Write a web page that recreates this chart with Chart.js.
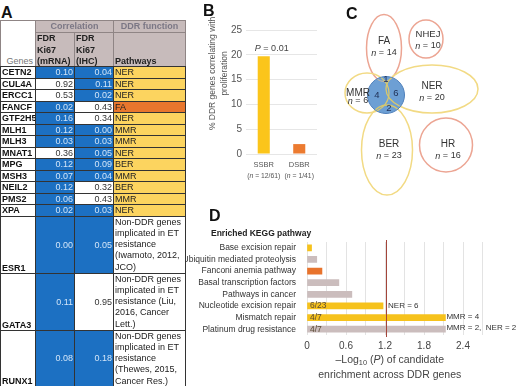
<!DOCTYPE html>
<html><head><meta charset="utf-8">
<script src="https://cdn.jsdelivr.net/npm/chart.js@4/dist/chart.umd.min.js"></script>
<style>
body{margin:0;width:520px;height:386px;position:relative;overflow:hidden;background:#fff;font-family:"Liberation Sans",Arial,sans-serif;}
canvas{position:absolute;}
.letter{position:absolute;font-weight:bold;font-size:16px;line-height:16px;color:#111;}
#tbl{position:absolute;left:0;top:0;width:186px;height:386px;z-index:5;}
.cell{position:absolute;box-sizing:border-box;border:1px solid #333;font-size:9px;overflow:hidden;}
#kegg{position:absolute;left:211px;top:228px;font-size:8.5px;font-weight:bold;color:#222;line-height:11px;}
</style></head><body>
<div id="tbl"></div>
<canvas id="cB" width="140" height="200" style="left:200px;top:0"></canvas>
<canvas id="cC" width="180" height="200" style="left:340px;top:0"></canvas>
<canvas id="cD" width="370" height="186" style="left:150px;top:200px"></canvas>
<div class="letter" style="left:1px;top:5px">A</div>
<div class="letter" style="left:203px;top:3px">B</div>
<div class="letter" style="left:346px;top:6px">C</div>
<div class="letter" style="left:209px;top:208px">D</div>
<div id="kegg">Enriched KEGG pathway</div>
<script>
// ---------- DATA ----------
// Panel A
const genes = ['CETN2','CUL4A','ERCC1','FANCF','GTF2H5','MLH1','MLH3','MNAT1','MPG','MSH3','NEIL2','PMS2','XPA','ESR1','GATA3','RUNX1'];
const fdrMrna = [0.10,0.92,0.53,0.02,0.16,0.12,0.03,0.36,0.12,0.07,0.12,0.06,0.02,0.00,0.11,0.08];
const fdrIhc  = [0.04,0.11,0.02,0.43,0.34,0.00,0.03,0.05,0.09,0.04,0.32,0.43,0.03,0.05,0.95,0.18];
const genePathways = ['NER','NER','NER','FA','NER','MMR','MMR','NER','BER','MMR','BER','MMR','NER',
  'Non-DDR genes\nimplicated in ET\nresistance\n(Iwamoto, 2012,\nJCO)',
  'Non-DDR genes\nimplicated in ET\nresistance (Liu,\n2016, Cancer\nLett.)',
  'Non-DDR genes\nimplicated in ET\nresistance\n(Thewes, 2015,\nCancer Res.)'];
const tableHeaders = ['Genes','Correlation','DDR function','FDR\nKi67\n(mRNA)','FDR\nKi67\n(IHC)','Pathways'];
const fdrCutoff = 0.2;

// Panel B
const bCategories = ['SSBR','DSBR'];
const bCounts = ['12/61','1/41'];
const bPercent = [19.7, 2.0];
const bPValue = '0.01';
const bYTicks = [0,5,10,15,20,25];

// Panel C
const vennSets = ['FA','NHEJ','NER','MMR','BER','HR'];
const vennSizes = [14,10,20,6,23,16];
const vennCoreSets = ['FA','MMR','NER','BER'];
const vennCoreCounts = [1,4,6,2];

// Panel D
const keggPathways = ['Base excision repair','Ubiquitin mediated proteolysis','Fanconi anemia pathway','Basal transcription factors','Pathways in cancer','Nucleotide excision repair','Mismatch repair','Platinum drug resistance'];
const keggLogP = [0.07,0.15,0.23,0.49,0.69,1.17,2.13,2.13];
const keggType = ['SSBR','other','FA','other','other','SSBR','SSBR','other'];
const keggRatio = ['','','','','','6/23','4/7','4/7'];
const keggNote = ['','','','','','NER = 6','MMR = 4','MMR = 2,  NER = 2'];
const keggThreshold = 1.22;
const keggXTicks = [0,0.6,1.2,1.8,2.4];

// ---------- STYLE / LAYOUT ----------
const FONT = '"Liberation Sans", Arial, sans-serif';
const C_BLUE = '#1c70c2', C_YEL = '#fcd45f', C_ORG = '#e8762d', C_HEAD = '#c7bbbb';

Chart.defaults.font.family = FONT;
Chart.defaults.animation = false;
Chart.defaults.responsive = false;
Chart.defaults.events = [];
Chart.defaults.plugins.legend.display = false;
Chart.defaults.plugins.tooltip.enabled = false;

// rich text: *..* italic, ~..~ subscript
function parseRich(s){
  const parts=[]; let it=false, sub=false, buf='';
  for(const ch of s){
    if(ch==='*'||ch==='~'){ if(buf) parts.push({t:buf,it,sub}); buf=''; if(ch==='*') it=!it; else sub=!sub; }
    else buf+=ch;
  }
  if(buf) parts.push({t:buf,it,sub});
  return parts;
}
function drawRich(ctx, s, x, y, align, size, color, weight){
  const parts=parseRich(s);
  ctx.save(); ctx.fillStyle=color; ctx.textBaseline='middle'; ctx.textAlign='left';
  const fonts=parts.map(p=>(p.it?'italic ':'')+(weight||'normal')+' '+(p.sub?size*0.7:size)+'px '+FONT);
  const w=parts.map((p,i)=>{ctx.font=fonts[i];return ctx.measureText(p.t).width;});
  const tot=w.reduce((a,b)=>a+b,0);
  let sx = align==='center'? x-tot/2 : align==='right'? x-tot : x;
  parts.forEach((p,i)=>{ctx.font=fonts[i]; ctx.fillText(p.t,sx,y+(p.sub?size*0.3:0)); sx+=w[i];});
  ctx.restore();
}

// ---------- PANEL A (table) ----------
(function(){
  const t=document.getElementById('tbl');
  const colX=[0,35,74,113,185];
  const rowTop=66, rowH=11.5, bigH=[57,57,56.5];
  function cell(x,y,w,h,bg,html,style){
    const d=document.createElement('div'); d.className='cell';
    d.style.cssText=`left:${x}px;top:${y}px;width:${w+1}px;height:${h+1}px;background:${bg};`+(style||'');
    d.innerHTML=html; t.appendChild(d); return d;
  }
  const hb='border-color:#8f8585;';
  cell(0,20,35,46,'#fff',`<div style="position:absolute;right:2px;bottom:0px;color:#777;">${tableHeaders[0]}</div>`,hb);
  cell(35,20,78,12,C_HEAD,`<div style="text-align:center;line-height:11px;color:#7b7785;font-weight:bold;">${tableHeaders[1]}</div>`,hb);
  cell(113,20,72,12,C_HEAD,`<div style="text-align:center;line-height:11px;color:#7b7785;font-weight:bold;">${tableHeaders[2]}</div>`,hb);
  cell(35,32,39,34,C_HEAD,`<div style="white-space:pre-line;line-height:11.5px;padding-left:1px;font-weight:bold;color:#222;">${tableHeaders[3]}</div>`,hb);
  cell(74,32,39,34,C_HEAD,`<div style="white-space:pre-line;line-height:11.5px;padding-left:1px;font-weight:bold;color:#222;">${tableHeaders[4]}</div>`,hb);
  cell(113,32,72,34,C_HEAD,`<div style="position:absolute;left:1px;bottom:0px;font-weight:bold;color:#222;">${tableHeaders[5]}</div>`,hb);
  let y=rowTop;
  genes.forEach((g,i)=>{
    const big = i>=13; const h = big? bigH[i-13] : rowH;
    if(big){
      cell(colX[0],y,35,h,'#fff',`<div style="position:absolute;left:1px;bottom:0;font-weight:bold;color:#111;">${g}</div>`);
    } else {
      cell(colX[0],y,35,h,'#fff',`<div style="line-height:${h-1}px;padding-left:1px;font-weight:bold;color:#111;">${g}</div>`);
    }
    [fdrMrna[i],fdrIhc[i]].forEach((v,k)=>{
      const blue=v<fdrCutoff;
      cell(colX[k+1],y,colX[k+2]-colX[k+1],h,blue?C_BLUE:'#fff',
        `<div style="line-height:${h-1}px;text-align:right;padding-right:1px;color:${blue?'#d2e5f8':'#333'};">${v.toFixed(2)}</div>`);
    });
    const p=genePathways[i];
    if(big){
      cell(colX[3],y,72,h,'#fff',`<div style="white-space:pre-line;line-height:11.3px;padding-left:1px;color:#222;">${p}</div>`);
    } else {
      cell(colX[3],y,72,h,p==='FA'?C_ORG:C_YEL,`<div style="line-height:${h-1}px;padding-left:1px;color:#222;">${p}</div>`);
    }
    y+=h;
  });
})();

// ---------- PANEL B ----------
const bPlugin={id:'bText',afterDatasetsDraw(chart){
  const ctx=chart.ctx, xs=chart.scales.x, ys=chart.scales.y, ca=chart.chartArea;
  bCategories.forEach((c,i)=>{
    const x=xs.getPixelForValue(i);
    drawRich(ctx,c,x,ca.bottom+11,'center',7.5,'#555');
    drawRich(ctx,'(*n* = '+bCounts[i]+')',x,ca.bottom+22,'center',6.8,'#555');
  });
  drawRich(ctx,'*P* = '+bPValue,xs.getPixelForValue(0)+8,ys.getPixelForValue(bPercent[0])-8,'center',9,'#444');
  ctx.save();
  const cy=ca.top+(ca.bottom-ca.top)*0.35;
  ctx.translate(13,cy); ctx.rotate(-Math.PI/2);
  drawRich(ctx,'% DDR genes correlating with',0,0,'center',8.5,'#555');
  drawRich(ctx,'proliferation',0,12,'center',8.5,'#555');
  ctx.restore();
}};
new Chart(document.getElementById('cB'),{
  type:'bar',
  data:{labels:bCategories,datasets:[{data:bPercent,backgroundColor:['#fbc51b','#ec7b30'],barPercentage:0.34,categoryPercentage:1}]},
  options:{
    layout:{padding:{top:30,right:23,left:0,bottom:0}},
    scales:{
      x:{grid:{display:false},border:{display:false},ticks:{display:false},afterFit:s=>{s.height=46;}},
      y:{min:bYTicks[0],max:bYTicks[bYTicks.length-1],
         ticks:{stepSize:bYTicks[1]-bYTicks[0],color:'#555',font:{size:10},padding:4},
         grid:{color:'#e6e6e6',drawTicks:false},border:{display:false},afterFit:s=>{s.width=46;}}
    }
  },
  plugins:[bPlugin]
});

// ---------- PANEL C (Venn) ----------
const vennLayout={
  FA:{cx:44,cy:48,rx:17.5,ry:33.5,col:'#eca593',lx:44,ly:41,fs:10},
  NHEJ:{cx:86,cy:39,rx:17,ry:19,col:'#eca593',lx:88,ly:34,fs:9.5},
  NER:{cx:92,cy:89,rx:46,ry:24,col:'#f2da84',lx:92,ly:86,fs:10},
  MMR:{cx:27,cy:93,rx:22,ry:20,col:'#f2da84',lx:18,ly:93,fs:10,nGap:8},
  BER:{cx:47,cy:150,rx:25.5,ry:45,col:'#f2da84',lx:49,ly:144,fs:10},
  HR:{cx:106,cy:145,rx:26.5,ry:27,col:'#eca593',lx:108,ly:144,fs:10}
};
const vennCore={cx:46,cy:95,r:18.5};
const vennCoreLabelPos={FA:[46,79.5],MMR:[37,95],NER:[56,93],BER:[49,108]};
const vennPlugin={id:'venn',afterDatasetsDraw(chart){
  const ctx=chart.ctx, xs=chart.scales.x, ys=chart.scales.y;
  const px=v=>xs.getPixelForValue(v), py=v=>ys.getPixelForValue(v);
  function ell(cx,cy,rx,ry){ctx.beginPath();ctx.ellipse(px(cx),py(cy),Math.abs(px(cx+rx)-px(cx)),Math.abs(py(cy+ry)-py(cy)),0,0,Math.PI*2);}
  ctx.save(); ctx.lineWidth=1.5;
  vennSets.forEach(s=>{const L=vennLayout[s]; ell(L.cx,L.cy,L.rx,L.ry); ctx.strokeStyle=L.col; ctx.stroke();});
  ell(vennCore.cx,vennCore.cy,vennCore.r,vennCore.r);
  ctx.fillStyle='#6d9fd4'; ctx.fill(); ctx.strokeStyle='#4f80bb'; ctx.lineWidth=1; ctx.stroke();
  ctx.save(); ell(vennCore.cx,vennCore.cy,vennCore.r-0.5,vennCore.r-0.5); ctx.clip();
  vennCoreSets.forEach(s=>{const L=vennLayout[s]; ell(L.cx,L.cy,L.rx,L.ry); ctx.strokeStyle=s==='FA'?'#b9b4a8':'#d9c86c'; ctx.lineWidth=1.3; ctx.stroke();});
  ctx.restore();
  ctx.restore();
  vennSets.forEach((s,i)=>{const L=vennLayout[s];
    drawRich(ctx,s,px(L.lx),py(L.ly),'center',L.fs,'#333');
    drawRich(ctx,'*n* = '+vennSizes[i],px(L.lx),py(L.ly+(L.nGap||12)),'center',9,'#333');
  });
  vennCoreSets.forEach((s,i)=>{const p=vennCoreLabelPos[s];
    drawRich(ctx,String(vennCoreCounts[i]),px(p[0]),py(p[1]),'center',9.5,'#1f2f55');
  });
}};
new Chart(document.getElementById('cC'),{
  type:'scatter',
  data:{datasets:[{data:vennSets.map(s=>({x:vennLayout[s].cx,y:vennLayout[s].cy})),pointRadius:0}]},
  options:{layout:{padding:0},scales:{
    x:{type:'linear',min:0,max:180,display:false},
    y:{type:'linear',min:0,max:200,reverse:true,display:false}}},
  plugins:[vennPlugin]
});

// ---------- PANEL D ----------
const keggColors={SSBR:'#f6c21c',FA:'#e8732c',other:'#cbbdbd'};
const dPlugin={id:'dText',afterDatasetsDraw(chart){
  const ctx=chart.ctx, xs=chart.scales.x, ys=chart.scales.y, ca=chart.chartArea;
  const tx=xs.getPixelForValue(keggThreshold);
  ctx.save(); ctx.strokeStyle='#a3453a'; ctx.lineWidth=1;
  ctx.beginPath(); ctx.moveTo(Math.round(tx)+0.5,ca.top-2); ctx.lineTo(Math.round(tx)+0.5,ca.bottom+2); ctx.stroke(); ctx.restore();
  keggPathways.forEach((p,i)=>{
    const y=ys.getPixelForValue(i);
    if(keggRatio[i]) drawRich(ctx,keggRatio[i],xs.getPixelForValue(0)+3,y,'left',8.5,'#5a4a35');
    if(keggNote[i]) drawRich(ctx,keggNote[i],xs.getPixelForValue(keggLogP[i])+(i===5?5:1),y-(i===5?0:1),'left',8,'#333');
  });
  const cx=(ca.left+ca.right)/2-5;
  drawRich(ctx,'–Log~10~ (*P*) of candidate',cx,ca.bottom+25,'center',10.5,'#444');
  drawRich(ctx,'enrichment across DDR genes',cx,ca.bottom+40,'center',10.5,'#444');
}};
new Chart(document.getElementById('cD'),{
  type:'bar',
  data:{labels:keggPathways,datasets:[{data:keggLogP,backgroundColor:keggType.map(t=>keggColors[t]),barThickness:6}]},
  options:{
    indexAxis:'y',
    layout:{padding:{top:42,right:37.5,left:0,bottom:0}},
    scales:{
      x:{min:0,max:2.7,
         ticks:{stepSize:0.3,color:'#444',font:{size:10},padding:5,autoSkip:false,maxRotation:0,minRotation:0,
           callback:v=>{const r=Math.round(v*10)/10; return keggXTicks.some(k=>Math.abs(k-r)<1e-6)? String(r):'';}},
         grid:{color:'#e3e3e3',drawTicks:false},border:{display:false},afterFit:s=>{s.height=51;}},
      y:{ticks:{color:'#333',font:{size:8.5},padding:3,autoSkip:false},grid:{display:false},border:{display:false},afterFit:s=>{s.width=157;}}
    }
  },
  plugins:[dPlugin]
});
</script>
</body></html>
